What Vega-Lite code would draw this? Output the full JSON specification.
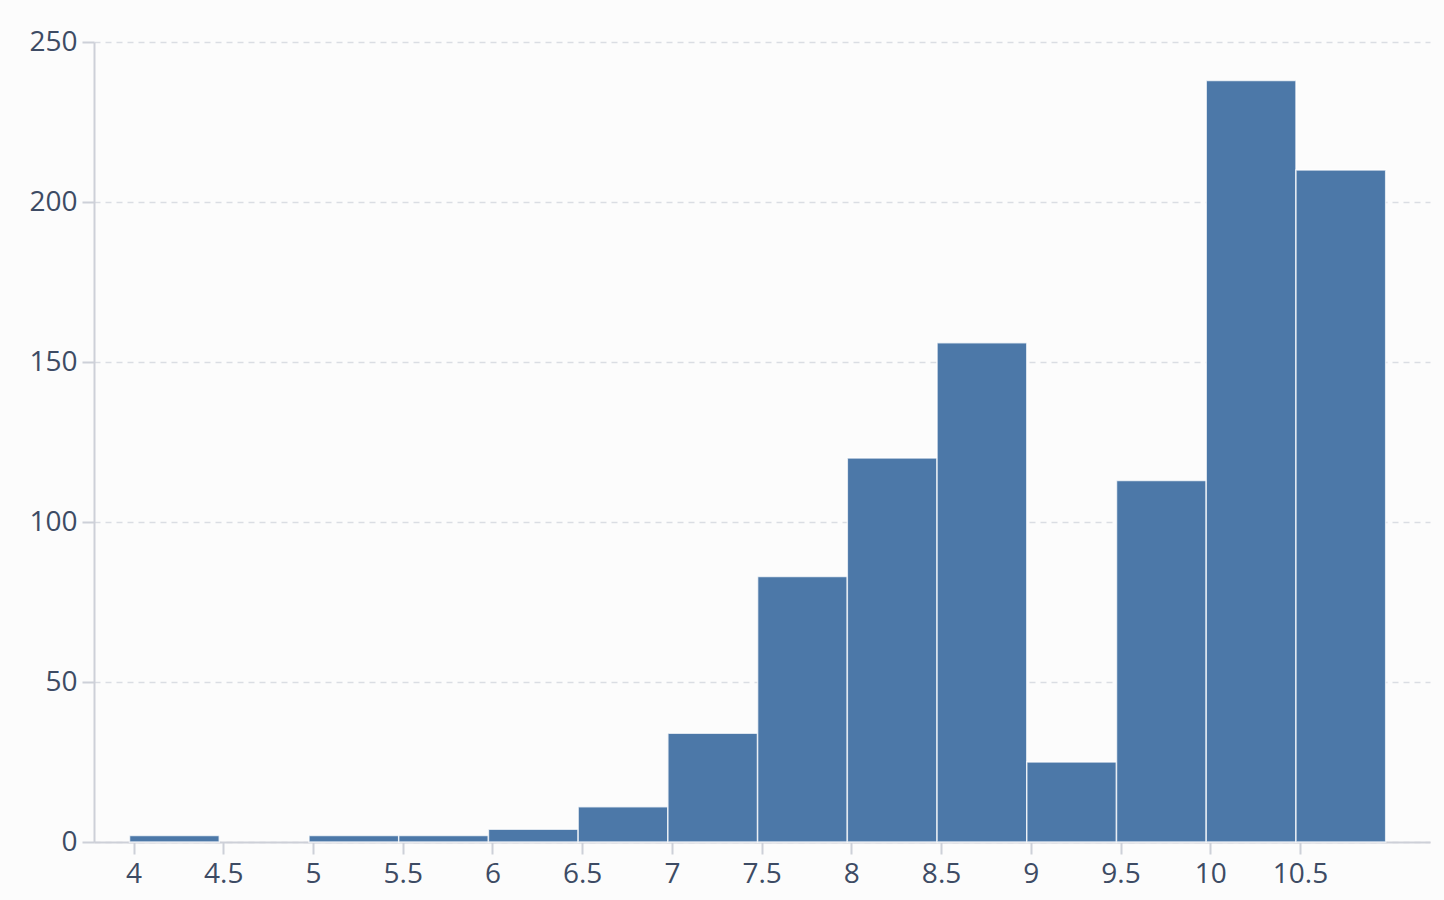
{
  "$schema": "https://vega.github.io/schema/vega-lite/v6.json",
  "width": 1336,
  "height": 800,
  "autosize": {"type": "none"},
  "padding": {"left": 94, "top": 42, "right": 14, "bottom": 58},
  "background": "#fcfcfc",
  "config": {
    "view": {"stroke": null},
    "font": "Open Sans",
    "axis": {
      "labelFont": "Open Sans",
      "labelFontSize": 28,
      "labelFontWeight": 500,
      "labelColor": "#3d4b64",
      "domainColor": "#cdd0d8",
      "domainWidth": 2,
      "tickColor": "#cdd0d8",
      "tickWidth": 2,
      "tickSize": 12,
      "gridColor": "#dadde3",
      "gridDash": [6, 5],
      "gridWidth": 1.5
    }
  },
  "data": {
    "values": [
      {"bin_start": 4.0, "bin_end": 4.5, "count": 2},
      {"bin_start": 4.5, "bin_end": 5.0, "count": 0},
      {"bin_start": 5.0, "bin_end": 5.5, "count": 2},
      {"bin_start": 5.5, "bin_end": 6.0, "count": 2},
      {"bin_start": 6.0, "bin_end": 6.5, "count": 4},
      {"bin_start": 6.5, "bin_end": 7.0, "count": 11},
      {"bin_start": 7.0, "bin_end": 7.5, "count": 34},
      {"bin_start": 7.5, "bin_end": 8.0, "count": 83},
      {"bin_start": 8.0, "bin_end": 8.5, "count": 120},
      {"bin_start": 8.5, "bin_end": 9.0, "count": 156},
      {"bin_start": 9.0, "bin_end": 9.5, "count": 25},
      {"bin_start": 9.5, "bin_end": 10.0, "count": 113},
      {"bin_start": 10.0, "bin_end": 10.5, "count": 238},
      {"bin_start": 10.5, "bin_end": 11.0, "count": 210}
    ]
  },
  "transform": [{"filter": "datum.count > 0"}],
  "mark": {
    "type": "rect",
    "color": "#4c78a8",
    "stroke": "#ffffff",
    "strokeOpacity": 0.75,
    "strokeWidth": 1.5
  },
  "encoding": {
    "x": {
      "field": "bin_start",
      "type": "quantitative",
      "scale": {"domain": [3.802, 11.247], "nice": false, "zero": false},
      "axis": {
        "title": null,
        "grid": false,
        "values": [4, 4.5, 5, 5.5, 6, 6.5, 7, 7.5, 8, 8.5, 9, 9.5, 10, 10.5],
        "format": "~g",
        "tickOffset": 4,
        "labelPadding": 6,
        "labelFlush": false
      }
    },
    "x2": {"field": "bin_end"},
    "y": {
      "field": "count",
      "type": "quantitative",
      "scale": {"domain": [0, 250], "nice": false},
      "axis": {
        "title": null,
        "values": [0, 50, 100, 150, 200, 250],
        "labelPadding": 5
      }
    },
    "y2": {"datum": 0}
  }
}
